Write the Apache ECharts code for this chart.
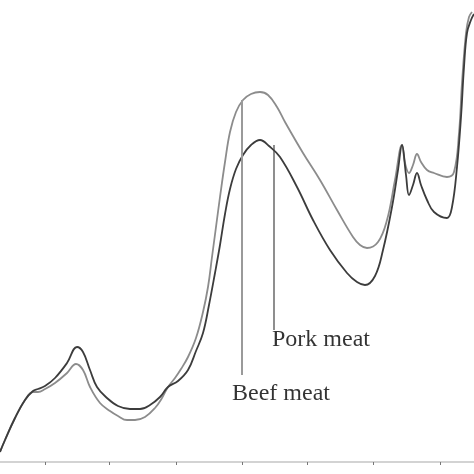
<!DOCTYPE html>
<html>
<head>
<meta charset="utf-8">
<script src="https://cdn.jsdelivr.net/npm/echarts@6.0.0/dist/echarts.min.js"></script>
<style>
  html, body { margin: 0; padding: 0; background: #fff; }
  #chart { width: 474px; height: 474px; }
</style>
</head>
<body>
<div id="chart"></div>
<script>
// spectra (arbitrary units)
const porkX = [0, 5, 15, 25, 33, 38, 45, 55, 67, 77, 83, 90, 97, 107, 118, 130, 140, 150, 160, 168,
  178, 188, 196, 203, 209, 215, 220, 225, 230, 236, 243, 251, 260, 269, 280, 297, 313, 330, 347, 357, 365,
  375, 383, 392, 398, 402, 406, 409, 413, 417, 421, 427, 434, 447, 452, 457, 461, 464, 467, 471, 474];
const porkY = [10, 22, 44, 62, 71, 73, 76, 84, 99, 115, 110, 92, 75, 64, 56, 53, 53, 57, 65, 75,
  81, 92, 111, 129, 157, 189, 217, 248, 273, 293, 307, 317, 322, 316, 305, 275, 242, 212, 189, 180, 177,
  186, 212, 255, 292, 317, 287, 267, 277, 289, 277, 262, 250, 244, 255, 295, 345, 395, 429, 442, 448];

const beefX = [0, 5, 15, 25, 33, 38, 45, 55, 67, 76, 83, 90, 100, 110, 118, 127, 135, 145, 155, 162,
  168, 175, 181, 188, 196, 203, 208, 212, 216, 220, 225, 230, 236, 243, 251, 260, 268, 277, 285, 303, 320,
  337, 353, 360, 367, 378, 387, 395, 402, 405, 409, 413, 417, 421, 427, 434, 447, 454, 459, 462, 466,
  469, 472];
const beefY = [10, 22, 44, 62, 70, 70, 73, 79, 89, 98, 92, 75, 59, 51, 46, 42, 42, 45, 54, 64,
  75, 84, 93, 105, 124, 150, 175, 205, 235, 265, 300, 330, 350, 362, 368, 370, 367, 355, 340, 309, 282,
  252, 225, 217, 214, 220, 242, 282, 317, 299, 289, 297, 308, 300, 292, 289, 285, 290, 329, 379, 429,
  445, 450];

const xTicks = [45, 109, 176, 242, 307, 373, 440];

// leader lines and their labels
const labels = ['Beef meat', 'Pork meat'];
const leaderX = [242, 274];
const leaderTop = [362, 317];
const leaderBottom = [87, 132];
const labelPos = [[232, 68], [272, 122]];

const zip = (xs, ys) => xs.map((x, i) => [x, ys[i]]);

const chart = echarts.init(document.getElementById('chart'), null, { renderer: 'canvas' });

chart.setOption({
  animation: false,
  grid: { left: 0, right: 0, top: 0, bottom: 12 },
  xAxis: {
    type: 'value',
    min: 0,
    max: 474,
    splitLine: { show: false },
    axisLine: { lineStyle: { color: '#c4c4c4', width: 1.5 } },
    axisTick: { customValues: xTicks, length: 3, lineStyle: { color: '#777' } },
    axisLabel: { show: false }
  },
  yAxis: {
    type: 'value',
    min: 0,
    max: 462,
    show: false
  },
  series: [
    {
      name: 'Beef meat',
      type: 'line',
      data: zip(beefX, beefY),
      smooth: 0.4,
      showSymbol: false,
      lineStyle: { color: '#8c8c8c', width: 1.8 }
    },
    {
      name: 'Pork meat',
      type: 'line',
      data: zip(porkX, porkY),
      smooth: 0.4,
      showSymbol: false,
      lineStyle: { color: '#3c3c3c', width: 1.8 }
    },
    {
      type: 'line',
      data: [[leaderX[0], leaderTop[0]], [leaderX[0], leaderBottom[0]]],
      showSymbol: false,
      lineStyle: { color: '#9a9a9a', width: 2 }
    },
    {
      type: 'line',
      data: [[leaderX[1], leaderTop[1]], [leaderX[1], leaderBottom[1]]],
      showSymbol: false,
      lineStyle: { color: '#444', width: 1.2 }
    },
    {
      type: 'scatter',
      symbolSize: 0,
      silent: true,
      data: labels.map((name, i) => ({ name, value: labelPos[i] })),
      label: {
        show: true,
        position: 'right',
        distance: 0,
        formatter: '{b}',
        fontFamily: 'Liberation Serif',
        fontSize: 24,
        color: '#000'
      }
    }
  ]
});
</script>
</body>
</html>
